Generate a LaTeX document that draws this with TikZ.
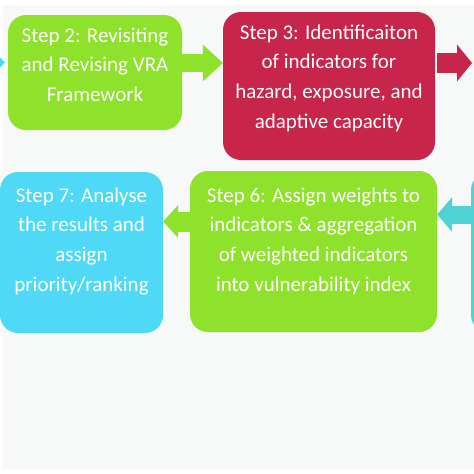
\documentclass[tikz,border=0pt]{standalone}
\usepackage{fontspec}
\setmainfont{Carlito}
\usepackage{tikz}
\usetikzlibrary{arrows.meta}
\usetikzlibrary{positioning}
\definecolor{paper}{RGB}{247, 248, 248}
\definecolor{leaf}{RGB}{143, 226, 43}
\definecolor{berry}{RGB}{200, 37, 74}
\definecolor{sky}{RGB}{79, 217, 247}
\definecolor{sea}{RGB}{80, 210, 213}

\begin{document}
\begin{tikzpicture}[x=1pt, y=-1pt,
    stepbox/.style={rectangle, rounded corners=18pt, inner xsep=0pt, inner ysep=0pt,
        align=center, text=white, font=\fontsize{21}{29.7}\selectfont},
    flow/.style n args={3}{line width=#1pt,
        -{Triangle[length=#2pt, width=#3pt, line width=0pt]}}]

    \clip (0, 0) rectangle (474, 474);
    \fill[white] (0, 0) rectangle (474, 474);
    \fill[paper] (2, 5) rectangle (474, 469);

    \node[stepbox, fill=leaf, minimum width=174pt, text height=86.4pt, text depth=28.6pt]
        (s2) at (95, 72.5) {Step 2: Revisiting\\and Revising VRA\\Framework};
    \node[stepbox, fill=berry, minimum width=212pt, text height=116.1pt, text depth=31.9pt]
        (s3) at (329, 86) {Step 3: Identificaiton\\of indicators for\\hazard, exposure, and\\adaptive capacity};
    \node[stepbox, fill=sea, minimum width=200pt, minimum height=161pt]
        (s5) at (571, 252.5) {};
    \node[stepbox, fill=leaf, minimum width=247pt, text height=120.1pt, text depth=40.9pt]
        (s6) at (313.5, 251.5) {Step 6: Assign weights to\\indicators \& aggregation\\of weighted indicators\\into vulnerability index};
    \node[stepbox, fill=sky, minimum width=163pt, text height=119.1pt, text depth=41.9pt]
        (s7) at (81.5, 252.5) {Step 7: Analyse\\the results and\\assign\\priority/ranking};

    \coordinate (s1out) at (-40, 62.5);
    \coordinate (s4in) at (472, 63);

    \draw[flow={18}{17}{37}, sky, shorten >=3pt] (s1out) -- (s1out -| s2.west);
    \draw[flow={18}{20}{37}, leaf] (s2.east |- 0, 63) -- (s3.west |- 0, 63);
    \draw[flow={20}{15}{37}, berry, shorten <=2pt] (s3.east |- s4in) -- (s4in);
    \draw[flow={18}{15}{35}, sea] (s5.west |- 0, 214.5) -- (s6.east |- 0, 214.5);
    \draw[flow={20}{15}{33}, leaf] (s6.west |- 0, 221.5) -- (s7.east |- 0, 221.5);

\end{tikzpicture}
\end{document}
